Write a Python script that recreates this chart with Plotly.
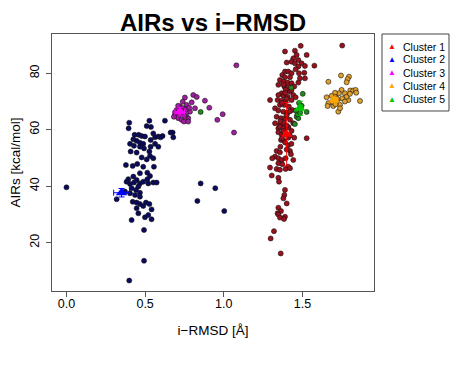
import plotly.graph_objects as go

# ---------------- data ----------------
cluster_names = ["Cluster 1", "Cluster 2", "Cluster 3", "Cluster 4", "Cluster 5"]

c1_x = [1.489, 1.452, 1.527, 1.389, 1.463, 1.442, 1.474, 1.431, 1.400, 1.452, 1.495, 1.516, 1.576, 1.474,
        1.457, 1.389, 1.410, 1.431, 1.478, 1.512, 1.372, 1.389, 1.421, 1.484, 1.516, 1.357, 1.379, 1.406,
        1.431, 1.474, 1.347, 1.385, 1.410, 1.448, 1.393, 1.421, 1.368, 1.347, 1.379, 1.406, 1.442, 1.294,
        1.342, 1.368, 1.393, 1.431, 1.457, 1.357, 1.385, 1.414, 1.326, 1.347, 1.379, 1.406, 1.436, 1.336,
        1.364, 1.389, 1.421, 1.326, 1.357, 1.385, 1.410, 1.442, 1.347,
        1.357, 1.379, 1.410, 1.431, 1.347, 1.368, 1.389, 1.410, 1.448, 1.527, 1.364, 1.385, 1.336, 1.357,
        1.421, 1.427, 1.326, 1.308, 1.347, 1.368, 1.393, 1.442, 1.347, 1.372, 1.410, 1.393, 1.421, 1.294,
        1.336, 1.357, 1.305, 1.347, 1.351, 1.389, 1.385, 1.379, 1.400, 1.347, 1.364, 1.342,
        1.347, 1.357, 1.389, 1.383, 1.319, 1.298, 1.362, 1.753,
        1.380, 1.400, 1.420, 1.370, 1.390, 1.410, 1.360, 1.400, 1.430, 1.380, 1.360, 1.400, 1.420, 1.370,
        1.400, 1.390, 1.430, 1.380]
c1_y = [89.7, 88.0, 86.5, 87.7, 86.5, 85.3, 84.7, 84.1, 83.8, 83.5, 83.5, 82.6, 82.7, 82.4,
        81.4, 80.6, 80.6, 80.0, 80.0, 80.2, 79.4, 78.6, 78.6, 78.2, 78.2, 77.6, 77.0, 76.7,
        76.5, 76.7, 75.9, 75.3, 75.0, 75.3, 74.1, 73.5, 72.9, 72.3, 72.0, 71.7, 72.3, 70.5,
        70.5, 70.3, 70.0, 70.5, 71.5, 68.8, 68.8, 68.2, 67.6, 66.8, 66.4, 66.1, 67.0, 64.6,
        64.1, 64.1, 63.5, 62.3, 61.7, 61.1, 60.9, 62.3, 60.5,
        61.1, 60.5, 60.8, 59.6, 59.1, 58.2, 58.4, 57.2, 57.2, 57.0, 56.4, 56.0, 52.5, 52.0,
        52.5, 51.3, 50.5, 49.9, 49.9, 49.3, 49.9, 49.3, 48.1, 47.8, 46.9, 46.1, 46.4, 46.6,
        46.1, 45.8, 43.8, 43.0, 41.6, 38.7, 36.9, 35.7, 33.9, 32.4, 31.2, 30.4,
        30.0, 28.9, 29.2, 28.4, 24.1, 21.5, 16.2, 89.8,
        59.5, 61.5, 58.0, 57.0, 55.5, 54.5, 54.0, 53.0, 55.0, 62.5, 63.0, 65.0, 66.5, 69.5,
        71.0, 73.0, 74.0, 76.0]

c2_x = [0.399, 0.395, 0.527, 0.510, 0.537, 0.626, 0.433, 0.459, 0.478, 0.499, 0.425, 0.446, 0.467, 0.488,
        0.404, 0.429, 0.467, 0.493, 0.535, 0.563, 0.584, 0.611, 0.563, 0.584, 0.527, 0.446, 0.408, 0.478,
        0.510, 0.531, 0.450, 0.488, 0.378, 0.421, 0.556, 0.514, 0.467, 0.531, 0.425, 0.393, 0.446, 0.467,
        0.488, 0.514, 0.404, 0.429, 0.457, 0.520, 0.552, 0.573, 0.382, 0.414, 0.442, 0.467, 0.404, 0.436,
        0.421, 0.446, 0.467, 0.505, 0.527, 0.446, 0.488, 0.541, 0.457, 0.414, 0.499, 0.541, 0.520, 0.467,
        0.372, 0.552, 0.535, 0.599, 0.675, 0.552, 0.662, 0.679,
        0.000, 0.319, 0.493, 0.493, 0.399, 0.853, 0.832, 0.946, 1.003]
c2_y = [62.5, 60.5, 63.2, 61.3, 61.0, 63.2, 58.2, 58.2, 57.8, 57.6, 56.6, 56.1, 55.4, 55.0,
        55.0, 54.3, 54.0, 53.4, 56.4, 57.3, 57.6, 57.8, 55.0, 54.0, 52.3, 51.9, 52.3, 50.2,
        49.5, 50.7, 47.9, 46.9, 47.5, 47.2, 46.9, 44.8, 44.6, 43.6, 43.4, 42.5, 42.2, 41.0,
        41.6, 42.5, 40.8, 41.3, 39.9, 41.0, 41.3, 41.3, 41.6, 39.3, 38.7, 37.7, 37.5, 36.9,
        34.5, 34.2, 33.7, 34.2, 33.7, 32.2, 33.0, 31.8, 30.4, 28.0, 29.0, 28.3, 29.8, 36.3,
        38.1, 49.9, 54.0, 57.3, 59.0, 58.7, 59.0, 57.3,
        39.6, 35.4, 24.5, 13.6, 6.6, 41.0, 34.8, 39.3, 31.2]

c3_x = [0.806, 0.828, 0.880, 0.908, 0.817, 0.959, 0.993, 1.065, 0.753, 0.739, 0.796, 0.764, 0.700, 0.690,
        0.711, 0.774, 0.785, 0.722, 0.743, 0.760, 0.732, 0.747, 0.774, 0.683,
        0.700, 0.730, 0.760, 0.720, 0.690, 0.750, 0.710, 0.780, 1.080]
c3_y = [72.3, 71.6, 70.3, 67.8, 67.6, 63.5, 65.5, 59.0, 71.4, 69.9, 69.7, 68.8, 67.0, 65.2,
        64.1, 64.1, 66.4, 68.2, 67.6, 65.2, 63.5, 62.9, 62.9, 64.6,
        66.0, 66.8, 67.2, 65.5, 66.2, 64.8, 68.5, 67.8, 82.8]

c4_x = [1.745, 1.796, 1.787, 1.781, 1.665, 1.804, 1.749, 1.770, 1.732, 1.707, 1.686, 1.711, 1.753, 1.792,
        1.823, 1.838, 1.842, 1.654, 1.665, 1.724, 1.770, 1.866, 1.739, 1.696, 1.660, 1.728, 1.739, 1.707,
        1.781, 1.802, 1.720, 1.690, 1.710]
c4_y = [79.2, 78.8, 77.9, 76.8, 77.0, 73.9, 74.1, 72.9, 72.9, 73.1, 72.0, 71.5, 71.1, 70.5,
        73.9, 74.1, 73.1, 71.5, 69.4, 70.5, 70.0, 70.2, 68.8, 68.4, 68.4, 66.4, 67.6, 69.6,
        71.7, 72.7, 71.0, 70.0, 69.0]

c5_x = [1.502, 1.527, 1.463, 1.452, 1.429, 1.474, 1.468, 1.485, 1.478, 1.495, 1.458, 0.853]
c5_y = [72.7, 66.3, 64.6, 62.0, 74.9, 64.1, 65.5, 66.0, 69.5, 68.5, 66.8, 66.3]

mean_x = [1.400, 0.350, 0.720, 1.703, 1.484]
mean_y = [58.4, 37.7, 66.4, 70.5, 67.6]
mean_x_err = [0.02, 0.05, 0.03, 0.02, 0.015]
mean_y_err = [11.2, 1.5, 1.5, 1.0, 2.5]

x_ticks = [0.0, 0.5, 1.0, 1.5]
x_tick_labels = ["0.0", "0.5", "1.0", "1.5"]
y_ticks = [20, 40, 60, 80]
y_tick_labels = ["20", "40", "60", "80"]

# ---------------- styles ----------------
point_fill = ["#9b111e", "#0a0a5e", "#a0209f", "#e0a030", "#208a20"]
mean_color = ["#ff0000", "#0000ff", "#ff00ff", "#ffa500", "#00c800"]
FONT = "Liberation Sans, Arial, Helvetica, sans-serif"

W, H = 466, 358

fig = go.Figure()
points = [(c1_x, c1_y), (c2_x, c2_y), (c3_x, c3_y), (c4_x, c4_y), (c5_x, c5_y)]
for i, (px, py) in enumerate(points):
    fig.add_trace(go.Scatter(
        x=px, y=py, mode="markers", showlegend=False, hoverinfo="x+y",
        marker=dict(size=5, color=point_fill[i], line=dict(color="#111111", width=0.6)),
    ))

for i in range(len(cluster_names)):
    fig.add_trace(go.Scatter(
        x=[mean_x[i]], y=[mean_y[i]], mode="markers", showlegend=False, name=cluster_names[i],
        marker=dict(symbol="triangle-up", size=10, color=mean_color[i], line=dict(width=0)),
        error_x=dict(type="data", array=[mean_x_err[i]], color=mean_color[i], thickness=1, width=3),
        error_y=dict(type="data", array=[mean_y_err[i]], color=mean_color[i], thickness=1, width=3),
    ))

# manual legend (compact, R-like)
leg_y = [0.9506, 0.9012, 0.8491, 0.7977, 0.7459]
for i, name in enumerate(cluster_names):
    fig.add_annotation(xref="paper", yref="paper", x=1.055, y=leg_y[i], text="▲",
                       showarrow=False, xanchor="center", yanchor="middle",
                       font=dict(size=8, color=mean_color[i], family=FONT))
    fig.add_annotation(xref="paper", yref="paper", x=1.084, y=leg_y[i], text=name,
                       showarrow=False, xanchor="left", yanchor="middle",
                       font=dict(size=10.5, color="#000000", family=FONT))
fig.add_shape(type="rect", xref="paper", yref="paper", x0=1.0248, x1=1.2329, y0=0.7004, y1=1.0,
              line=dict(color="#444444", width=1), fillcolor="rgba(0,0,0,0)")

fig.update_layout(
    width=W, height=H,
    margin=dict(l=44, r=100, t=26, b=75, autoexpand=False),
    paper_bgcolor="white", plot_bgcolor="white",
    font=dict(family=FONT, color="#000000"),
    title=dict(text="<b>AIRs vs i−RMSD</b>", x=205 / W, xref="container", xanchor="center",
               y=1 - 15 / H, yref="container", yanchor="middle",
               font=dict(size=24, family=FONT, color="#000000")),
    xaxis=dict(range=[-0.092, 1.955], tickvals=x_ticks, ticktext=x_tick_labels,
               showgrid=False, zeroline=False, showline=True, mirror=True,
               linecolor="#555555", linewidth=1, ticks="outside", ticklen=5,
               tickcolor="#555555", tickfont=dict(size=12.5), ticklabelstandoff=-4,
               title=dict(text="i−RMSD [Å]", font=dict(size=13.5), standoff=15)),
    yaxis=dict(range=[2.9, 93.9], tickvals=y_ticks, ticktext=y_tick_labels,
               showgrid=False, zeroline=False, showline=True, mirror=True,
               linecolor="#555555", linewidth=1, ticks="outside", ticklen=5,
               tickcolor="#555555", tickfont=dict(size=12.5), tickangle=-90,
               ticklabelstandoff=2,
               title=dict(text="AIRs [kcal/mol]", font=dict(size=13.5), standoff=10)),
)

fig.write_html("out.html")
